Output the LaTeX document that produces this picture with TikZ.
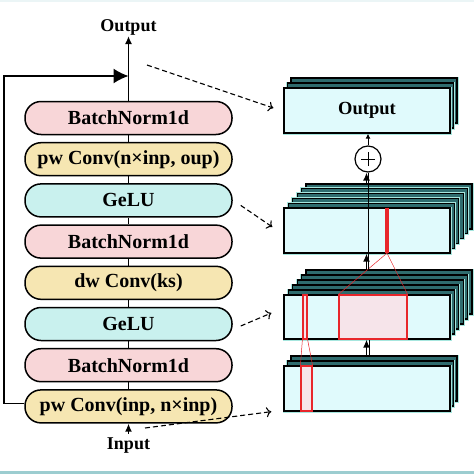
\documentclass[tikz,border=0pt]{standalone}
\usepackage{fontspec}
\setmainfont{Liberation Serif}
\usetikzlibrary{arrows.meta,positioning}

\definecolor{normpink}{HTML}{F8D6D8}
\definecolor{convyellow}{HTML}{F6E6B2}
\definecolor{actcyan}{HTML}{C9F1EE}
\definecolor{featcyan}{HTML}{E0FAFC}
\definecolor{layerteal}{HTML}{2F6C6E}
\definecolor{layerlight}{HTML}{A6E6DE}
\definecolor{markred}{HTML}{E8262B}
\definecolor{markpink}{HTML}{F6E4EA}
\definecolor{bandteal}{HTML}{9CCDD0}

\tikzset{
    pill/.style={draw, line width=1.5pt, rounded corners=16pt,
        minimum width=207pt, minimum height=33pt, inner sep=0pt,
        font=\bfseries\fontsize{20}{20}\selectfont},
    feature/.style={draw, line width=1.3pt, fill=featcyan,
        minimum width=166pt, minimum height=45pt, inner sep=0pt,
        preaction={draw=layerlight, line width=3pt},
        font=\bfseries\fontsize{18.5}{18.5}\selectfont},
    backlayer/.style={draw, line width=1.3pt, fill=layerteal,
        preaction={draw=layerlight, line width=3pt}},
    field/.style={draw=markred, line width=1.2pt, fill=markpink, inner sep=0pt},
    fan/.style={draw=markred, line width=0.5pt},
    flow/.style={line width=1.4pt, -{Latex[length=8pt,width=7pt]}},
    hint/.style={dashed, dash pattern=on 5pt off 3pt, line width=1.1pt,
        -{To[length=5pt,width=10pt]}},
    label/.style={inner sep=1pt, font=\bfseries\fontsize{18}{18}\selectfont},
}

\begin{document}
\begin{tikzpicture}[x=1pt, y=-1pt]

    % Canvas
    \useasboundingbox (0,0) rectangle (474,474);
    \fill[bandteal!20] (0,0) rectangle (474,2);
    \fill[bandteal] (0,471) rectangle (474,474);

    % Block layers, top to bottom
    \node[pill, fill=normpink] (norm3) at (128.5,118) {BatchNorm1d};
    \node[pill, fill=convyellow, below=6.7pt of norm3] (pwout) {pw Conv(n×inp, oup)};
    \node[pill, fill=actcyan, below=6.7pt of pwout] (gelu2) {GeLU};
    \node[pill, fill=normpink, below=6.7pt of gelu2] (norm2) {BatchNorm1d};
    \node[pill, fill=convyellow, below=6.7pt of norm2] (dwconv) {dw Conv(ks)};
    \node[pill, fill=actcyan, below=6.7pt of dwconv] (gelu1) {GeLU};
    \node[pill, fill=normpink, below=6.7pt of gelu1] (norm1) {BatchNorm1d};
    \node[pill, fill=convyellow, below=6.7pt of norm1] (pwin) {pw Conv(inp, n×inp)};

    % Input and output
    \node[label] (input) at (128.5,446) {Input};
    \node[label] (output) at (128.5,27) {Output};
    \draw[flow] ([yshift=3pt]input.north) -- (pwin);
    \foreach \a/\b in {pwin/norm1, norm1/gelu1, gelu1/dwconv, dwconv/norm2,
                       norm2/gelu2, gelu2/pwout, pwout/norm3}
        \draw[line width=1.5pt] (\a) -- (\b);
    \draw[flow] (norm3) -- (output);

    % Skip connection
    \coordinate (joint) at (128.5,76);
    \coordinate (skipcorner) at (4,76);
    \draw[line width=1.5pt, -{Latex[length=15pt,width=15pt]}]
        ([yshift=3pt]pwin.west) -| (skipcorner) -- (joint);

    % Feature map stacks
    \foreach \k in {2,1}
        \draw[backlayer, shift={(\k*3.5,-\k*5)}] (284,88) rectangle (450,133);
    \node[feature] (outmap) at (367,110.5) {Output};

    \foreach \k in {5,...,1}
        \draw[backlayer, shift={(\k*4.4,-\k*4.8)}] (284,208) rectangle (450,253);
    \node[feature] (map2) at (367,230.5) {};

    \foreach \k in {5,...,1}
        \draw[backlayer, shift={(\k*4.4,-\k*5)}] (284,295) rectangle (450,339);
    \node[feature, minimum height=44pt] (map3) at (367,317) {};

    \foreach \k in {2,1}
        \draw[backlayer, shift={(\k*3.5,-\k*5)}] (284,366) rectangle (450,411);
    \node[feature] (map4) at (367,388.5) {};

    % Receptive fields
    \node[field, fill=markred, minimum width=3pt, minimum height=44pt] (bar2) at (387,230.5) {};
    \node[field, minimum width=68pt, minimum height=44pt] (win3) at (373,317) {};
    \node[field, minimum width=4pt, minimum height=44pt] (bar3) at (305,317) {};
    \node[field, minimum width=11pt, minimum height=45pt] (win4) at (306.5,388.5) {};
    \draw[fan] (bar2.south) -- (win3.north west);
    \draw[fan] (bar2.south) -- (win3.north east);
    \draw[fan] (bar3.south west) -- (win4.north west);
    \draw[fan] (bar3.south east) -- (win4.north east);

    % Sum
    \node[draw, circle, line width=1.2pt, fill=white, minimum size=26pt] (sum) at (368,159) {};
    \draw[line width=0.6pt] ([xshift=-7pt]sum.center) -- ([xshift=7pt]sum.center)
        ([yshift=-7pt]sum.center) -- ([yshift=7pt]sum.center);

    % Vertical flow between stacks
    \coordinate (top4) at (366.5,356);
    \coordinate (top3) at (366.5,270);
    \coordinate (top2) at (366.5,184);
    \draw[flow] (top4) -- (top4 |- map3.south);
    \draw[flow] (top3) -- (top3 |- map2.south);
    \draw[line width=1pt] ([xshift=3pt]top4) -- ([xshift=3pt]top4 |- map3.south);
    \draw[line width=1pt] ([xshift=2pt]top3) -- ([xshift=2pt]top3 |- sum.south);
    \draw[flow] (top2) -- (top2 |- sum.south);
    \draw[line width=1pt, -{Latex[length=5pt,width=5pt]}] (sum) -- (sum |- outmap.south);

    % Hints to the stacks
    \coordinate (hint1) at (147,65);
    \coordinate (hint4) at (145,428);
    \draw[hint] (hint1) -- ([xshift=-10pt,yshift=2.5pt]outmap.west);
    \draw[hint] ([xshift=8pt,yshift=-5pt]gelu2.east) -- ([xshift=-11pt,yshift=3.5pt]map2.west);
    \draw[hint] ([xshift=8pt,yshift=-2pt]gelu1.east) -- ([xshift=-12pt,yshift=4pt]map3.west);
    \draw[hint] (hint4) -- ([xshift=-12pt]map4.south west);

\end{tikzpicture}
\end{document}
